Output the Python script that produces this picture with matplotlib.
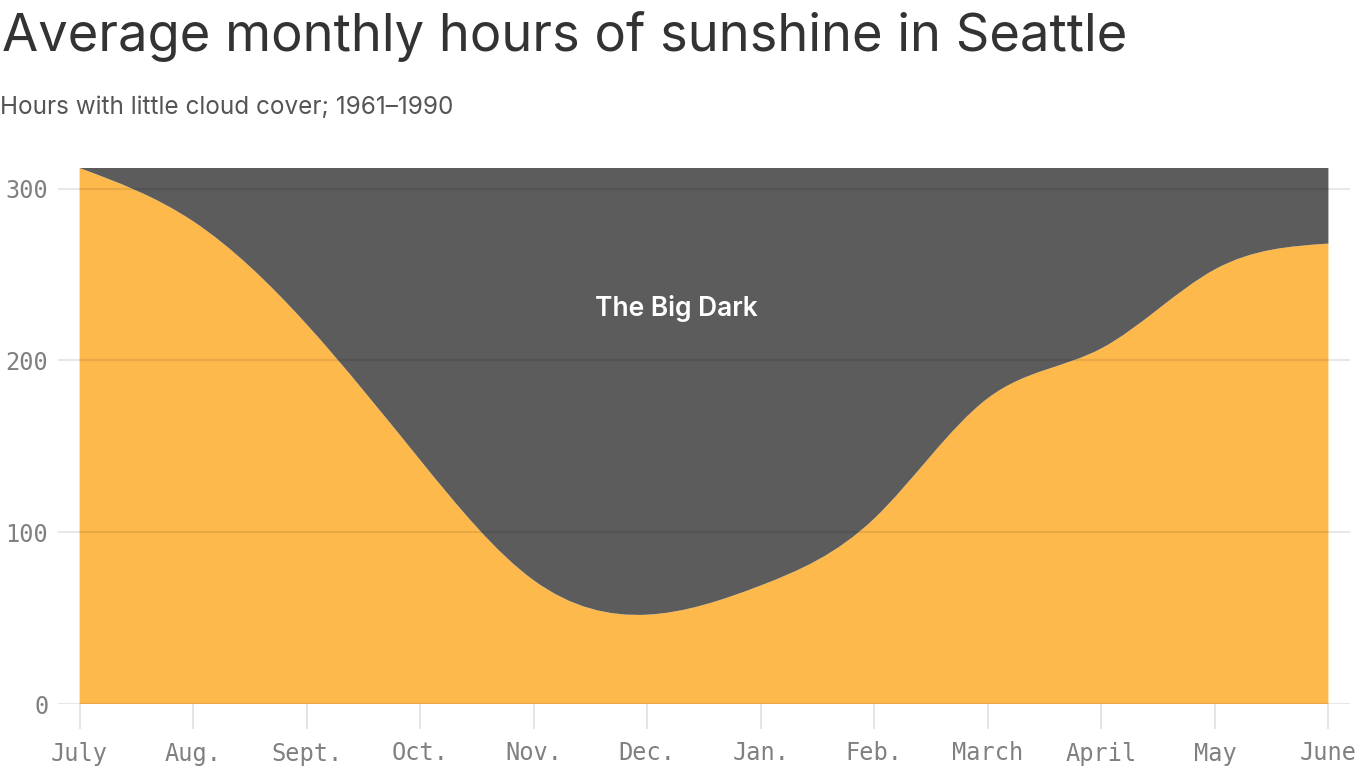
import matplotlib.pyplot as plt
import numpy as np
from matplotlib.path import Path
from matplotlib.patches import PathPatch

months = ['July', 'Aug.', 'Sept.', 'Oct.', 'Nov.', 'Dec.', 'Jan.', 'Feb.',
          'March', 'April', 'May', 'June']
hours = [312, 281, 221, 142, 72, 52, 69, 108, 178, 207, 253, 268]
yticks = [0, 100, 200, 300]

YELLOW = '#feb94c'
DARK = '#5c5c5c'


def natural_controls(p):
    # bezier control points of a natural cubic spline (like d3.curveNatural)
    p = np.asarray(p, float)
    n = len(p) - 1
    a = np.zeros(n); b = np.zeros(n); r = np.zeros(n)
    a[0], b[0], r[0] = 0, 2, p[0] + 2 * p[1]
    for i in range(1, n - 1):
        a[i], b[i], r[i] = 1, 4, 4 * p[i] + 2 * p[i + 1]
    a[n - 1], b[n - 1], r[n - 1] = 2, 7, 8 * p[n - 1] + p[n]
    for i in range(1, n):
        m = a[i] / b[i - 1]
        b[i] -= m
        r[i] -= m * r[i - 1]
    a[n - 1] = r[n - 1] / b[n - 1]
    for i in range(n - 2, -1, -1):
        a[i] = (r[i] - a[i + 1]) / b[i]
    b[n - 1] = (p[n] + a[n - 1]) / 2
    for i in range(n - 1):
        b[i] = 2 * p[i + 1] - a[i + 1]
    return a, b


def curve_verts(x, y):
    ax_, bx_ = natural_controls(x)
    ay_, by_ = natural_controls(y)
    verts, codes = [], []
    for i in range(len(x) - 1):
        verts += [(ax_[i], ay_[i]), (bx_[i], by_[i]), (x[i + 1], y[i + 1])]
        codes += [Path.CURVE4] * 3
    return verts, codes


xs = list(range(len(months)))
cv, cc = curve_verts(xs, hours)
top = max(hours)

fig = plt.figure(figsize=(13.66, 7.68), dpi=100)
ax = fig.add_axes([58 / 1366, 64 / 768, 1292 / 1366, 536 / 768])

# sunshine area
v = [(xs[0], 0), (xs[0], hours[0])] + cv + [(xs[-1], 0), (xs[0], 0)]
c = [Path.MOVETO, Path.LINETO] + cc + [Path.LINETO, Path.CLOSEPOLY]
ax.add_patch(PathPatch(Path(v, c), facecolor=YELLOW, edgecolor='none', zorder=1))

# "big dark" area above the curve
v = [(xs[0], top), (xs[0], hours[0])] + cv + [(xs[-1], top), (xs[0], top)]
c = [Path.MOVETO, Path.LINETO] + cc + [Path.LINETO, Path.CLOSEPOLY]
ax.add_patch(PathPatch(Path(v, c), facecolor=DARK, edgecolor='none', zorder=1))

for yt in yticks:
    ax.axhline(yt, color='black', alpha=0.09, lw=1.5, zorder=2)

ax.set_xlim(-0.19, len(months) - 1 + 0.19)
ax.set_ylim(0, top)
for s in ax.spines.values():
    s.set_visible(False)

ax.set_xticks(xs)
ax.set_xticklabels(months, family='DejaVu Sans Mono', fontsize=17, color='#808080')
ax.set_yticks(yticks)
ax.set_yticklabels([str(v) for v in yticks], family='DejaVu Sans Mono', fontsize=17, color='#808080')
ax.tick_params(axis='x', length=18, width=1.2, color='#e0e0e0', pad=9)
ax.tick_params(axis='y', length=0, pad=7)

ax.text(5.26, 230, 'The Big Dark', color='white', fontsize=19, family='Inter',
        fontweight='semibold', ha='center', va='center', zorder=3)

fig.text(0.0015, 0.953, 'Average monthly hours of sunshine in Seattle', family='Inter',
         fontsize=37.8, color='#333333', va='center', ha='left')
fig.text(0.0, 0.86, 'Hours with little cloud cover; 1961\u20131990', family='Inter',
         fontsize=17.5, color='#555555', va='center', ha='left')

fig.savefig('out.png', dpi=100)
